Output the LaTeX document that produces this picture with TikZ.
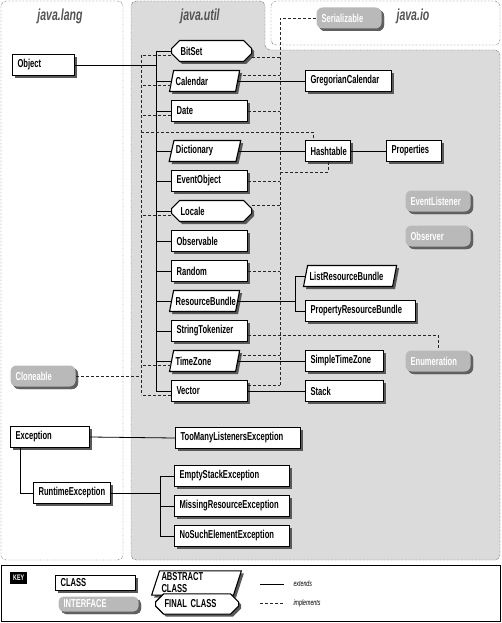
\documentclass[tikz,border=0pt]{standalone}
\usepackage{fontspec}
\setmainfont{Liberation Sans}[FakeStretch=0.66]
\usetikzlibrary{shapes.geometric,shapes.misc,shadows}

\tikzset{
	box/.style={draw, line width=1.1pt, fill=white, minimum height=21, inner xsep=5, inner ysep=2, anchor=west,
		font=\fontsize{11.5}{12}\selectfont\bfseries, align=left,
		drop shadow={shadow xshift=2.5pt, shadow yshift=-2.5pt, fill=gray!70!black, opacity=1}},
	cls/.style={box, rectangle, text width=#1},
	abstr/.style={box, trapezium, trapezium left angle=72, trapezium right angle=108,
		trapezium stretches body, inner xsep=2, text width=#1},
	final/.style={box, chamfered rectangle, chamfered rectangle xsep=4pt, chamfered rectangle sep=4pt, text width=#1},
	iface/.style={box, draw=none, rounded corners=6, fill=gray!55, text=white, text width=#1,
		drop shadow={shadow xshift=2.5pt, shadow yshift=-2.5pt, fill=gray!75!black, opacity=1}},
	ext/.style={thick},
	impl/.style={dash pattern=on 3pt off 2pt, gray!30!black},
	pkg/.style={font=\fontsize{16}{17}\selectfont\bfseries\itshape, text=gray!65!black}
}

\begin{document}
\begin{tikzpicture}[x=1pt, y=-1pt]
	\useasboundingbox (0,0) rectangle (502,623);
	% packages
	\draw[densely dotted, rounded corners=5] (1,1) rectangle (123,560);
	\draw[densely dotted, rounded corners=5, fill=gray!28] (131,1) -- (265,1) -- (265,50) -- (500,50) -- (500,560) -- (131,560) -- cycle;
	\draw[densely dotted, rounded corners=5] (271,1) rectangle (500,45);
	\node[pkg] at (60,16) {java.lang};
	\node[pkg] at (200,16) {java.util};
	\node[pkg] at (413,16) {java.io};

	% java.lang
	\node[cls=52] (object) at (12,65) {Object};
	\node[iface=55] (cloneable) at (10,376) {Cloneable};
	\node[cls=69] (exception) at (10,437) {Exception};
	\node[cls=67] (runtime) at (33,493) {RuntimeException};

	% java.util
	\node[final=62] (bitset) at (171,51) {BitSet};
	\node[abstr=58] (calendar) at (171,81) {Calendar};
	\node[cls=66] (date) at (171,111) {Date};
	\node[abstr=58] (dictionary) at (171,151) {Dictionary};
	\node[cls=66] (eventobj) at (171,181) {EventObject};
	\node[final=62] (locale) at (171,211) {Locale};
	\node[cls=66] (observable) at (171,241) {Observable};
	\node[cls=66] (random) at (171,271) {Random};
	\node[abstr=58] (resbundle) at (171,301) {ResourceBundle};
	\node[cls=66] (strtok) at (171,331) {StringTokenizer};
	\node[abstr=58] (timezone) at (171,361) {TimeZone};
	\node[cls=66] (vector) at (171,391) {Vector};

	\node[cls=76] (gregorian) at (305,81) {GregorianCalendar};
	\node[cls=35] (hashtable) at (305,151) {Hashtable};
	\node[cls=45] (properties) at (386,151) {Properties};
	\node[abstr=81] (listrb) at (305,276) {ListResourceBundle};
	\node[cls=100] (proprb) at (305,311) {PropertyResourceBundle};
	\node[cls=68] (simpletz) at (305,361) {SimpleTimeZone};
	\node[cls=68] (stack) at (305,391) {Stack};

	\node[iface=55] (eventlist) at (405,201) {EventListener};
	\node[iface=55] (observer) at (405,236) {Observer};
	\node[iface=55] (enumeration) at (405,361) {Enumeration};
	\node[iface=55] (serializable) at (316,18) {Serializable};

	\node[cls=115] (toomany) at (175,438) {TooManyListenersException};
	\node[cls=105] (emptystack) at (174,476) {EmptyStackException};
	\node[cls=105] (missing) at (174,506) {MissingResourceException};
	\node[cls=105] (nosuch) at (174,536) {NoSuchElementException};

	% trunks
	\coordinate (tr1) at (156,51);
	\coordinate (tr2) at (156,391);
	\coordinate (cl1) at (141,55);
	\coordinate (cl2) at (141,395);
	\coordinate (sr1) at (280,22);
	\coordinate (sr2) at (280,385);
	\coordinate (rb) at (295,301);
	\coordinate (rx) at (160,493);

	% extends
	\draw[ext] (tr1) -- (tr2);
	\draw[ext] (object.east) -- (object.east -| tr1);
	\foreach \n in {bitset,calendar,date,dictionary,eventobj,locale,observable,random,resbundle,strtok,timezone,vector}
		\draw[ext] (\n.west) -- (\n.west -| tr1);
	\draw[ext] (calendar.east) -- (gregorian.west);
	\draw[ext] (dictionary.east) -- (hashtable.west);
	\draw[ext] (hashtable.east) -- (properties.west);
	\draw[ext] (resbundle.east) -- (rb);
	\draw[ext] (listrb.west) -| (rb);
	\draw[ext] (proprb.west) -| (rb);
	\draw[ext] (timezone.east) -- (simpletz.west);
	\draw[ext] (vector.east) -- (stack.west);
	\draw[ext] (exception.east) -- (toomany.west);
	\draw[ext] ([xshift=10]exception.south west) |- (runtime.west);
	\draw[ext] (runtime.east) -- (rx);
	\foreach \n in {emptystack,missing,nosuch}
		\draw[ext] (\n.west) -| (rx);

	% implements
	\draw[impl] (cl1) -- (cl2);
	\foreach \n in {bitset,calendar,date,locale,timezone,vector}
		\draw[impl] ([yshift=-4]\n.west) -- ([yshift=-4]\n.west -| cl1);
	\draw[impl] (cloneable.east) -- (cloneable.east -| cl1);
	\draw[impl] (cl1 |- 0,132) -| ([xshift=-15]hashtable.north);
	\draw[impl] (serializable.west) -| (sr2);
	\foreach \n/\d in {bitset/-6,calendar/6,date/0,eventobj/0,locale/6,random/0,timezone/6,vector/6}
		\draw[impl] ([yshift=\d]\n.east) -- ([yshift=\d]\n.east -| sr1);
	\draw[impl] (hashtable.south) |- (sr1 |- 0,172);
	\draw[impl] ([yshift=-4]strtok.east) -| (enumeration.north);

	% key
	\draw[thick] (1,565) rectangle (500,621);
	\begin{scope}[every node/.append style={font=\fontsize{8}{9}\selectfont\bfseries}]
		\node[fill=black, text=white, anchor=west, inner sep=3] (key) at (10,578) {KEY};
		\node[cls=70, minimum height=15] (kclass) at (55,583) {CLASS};
		\node[abstr=70, minimum height=15] (kabstr) at (155,583) {ABSTRACT CLASS};
		\node[iface=70, minimum height=15, rounded corners=5] (kiface) at (58,604) {INTERFACE};
		\node[final=65, minimum height=15] (kfinal) at (155,604) {FINAL CLASS};
	\end{scope}
	\coordinate (e1) at (260,584);
	\coordinate (e2) at (284,584);
	\coordinate (i1) at (260,603);
	\coordinate (i2) at (284,603);
	\draw[ext] (e1) -- (e2);
	\draw[impl] (i1) -- (i2);
	\node[anchor=west, font=\fontsize{8}{9}\selectfont\itshape] (lext) at (290,584) {extends};
	\node[anchor=west, font=\fontsize{8}{9}\selectfont\itshape] (limpl) at (290,603) {implements};
\end{tikzpicture}
\end{document}
